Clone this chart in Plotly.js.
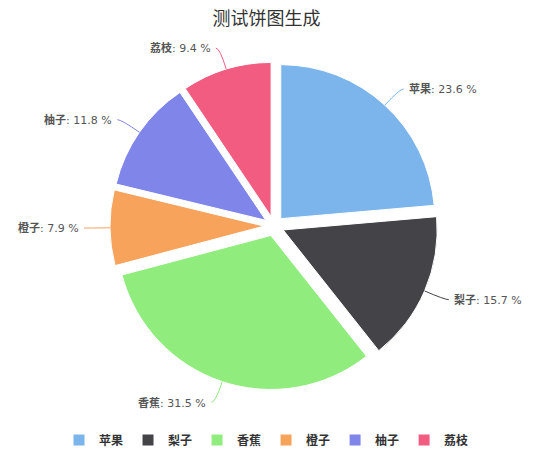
<!DOCTYPE html>
<html>
<head>
<meta charset="utf-8">
<script src="https://cdn.plot.ly/plotly-3.0.1.min.js"></script>
<style>html,body{margin:0;padding:0;background:#fff}#chart{width:533px;height:458px}</style>
</head>
<body>
<div id="chart"></div>
<script>
// ---- data ----
const categories = ['苹果', '梨子', '香蕉', '橙子', '柚子', '荔枝'];
const shares = [23.6, 15.7, 31.5, 7.9, 11.8, 9.4];
const colors = ['#7cb5ec', '#434348', '#90ed7d', '#f7a35c', '#8085e9', '#f15c80'];
const chartTitle = '测试饼图生成';

// ---- layout constants ----
const W = 533, H = 458;
const CX = 274, CY = 226, R = 154, OFF = 10, DIST = 22;
const pull = OFF / R;
const FONT = '"Open Sans", "Noto Sans CJK SC", sans-serif';
const LABEL_FONT = '"DejaVu Sans", "Noto Sans CJK SC", sans-serif';

const total = shares.reduce((a, b) => a + b, 0);
const annotations = [];
const shapes = [];
let cum = 0;
shares.forEach((v, i) => {
  const theta = 2 * Math.PI * (cum + v / 2) / total;
  cum += v;
  const dx = Math.sin(theta), dy = -Math.cos(theta);
  const sign = dx >= 0 ? 1 : -1;
  const p0 = [CX + (R + OFF) * dx, CY + (R + OFF) * dy];
  const p1 = [CX + (R + OFF + DIST) * dx, CY + (R + OFF + DIST) * dy];
  const p2 = [p1[0] + sign * 4, p1[1]];
  const px = p => (p[0] / W).toFixed(5);
  const py = p => (1 - p[1] / H).toFixed(5);
  shapes.push({
    type: 'path', xref: 'paper', yref: 'paper',
    path: `M ${px(p0)} ${py(p0)} Q ${px(p1)} ${py(p1)} ${px(p2)} ${py(p2)}`,
    line: {color: colors[i], width: 1}
  });
  const pct = (v / total * 100).toFixed(1);
  annotations.push({
    xref: 'paper', yref: 'paper',
    x: (p2[0] + sign * 3) / W, y: 1 - p2[1] / H,
    xanchor: sign > 0 ? 'left' : 'right', yanchor: 'middle',
    showarrow: false,
    text: '<b>' + categories[i] + '</b>: ' + pct + ' %',
    font: {family: LABEL_FONT, size: 11, color: '#555555'}
  });
});

const trace = {
  type: 'pie',
  labels: categories,
  values: shares,
  sort: false,
  direction: 'clockwise',
  rotation: 0,
  pull: shares.map(() => pull),
  marker: {colors: colors, line: {color: '#ffffff', width: 1}},
  textinfo: 'none',
  hoverinfo: 'label+percent',
  domain: {
    x: [(CX - R - OFF) / W, (CX + R + OFF) / W],
    y: [1 - (CY + R + OFF) / H, 1 - (CY - R - OFF) / H]
  }
};

const layout = {
  width: W, height: H,
  margin: {l: 0, r: 0, t: 0, b: 0},
  paper_bgcolor: '#ffffff',
  title: {
    text: chartTitle,
    x: 0.5, xanchor: 'center',
    yref: 'container', y: 1 - 19 / H, yanchor: 'middle',
    font: {family: FONT, size: 18, color: '#333333'}
  },
  showlegend: true,
  legend: {
    orientation: 'h',
    x: 0.5, xanchor: 'center',
    y: 1 - 440 / H, yanchor: 'middle',
    font: {family: FONT, size: 12, color: '#333333', weight: 'bold'},
    traceorder: 'normal'
  },
  annotations: annotations,
  shapes: shapes
};

Plotly.newPlot('chart', [trace], layout, {displayModeBar: false, staticPlot: true});
</script>
</body>
</html>
